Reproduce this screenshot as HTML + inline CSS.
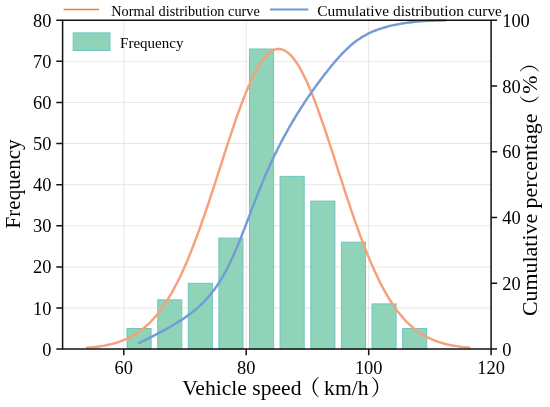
<!DOCTYPE html>
<html lang="en"><head><meta charset="utf-8"><title>Vehicle speed distribution</title>
<style>html,body{margin:0;padding:0;background:#fff}body{width:550px;height:407px;overflow:hidden}svg text{font-family:"Liberation Serif","Noto Serif CJK SC",serif}</style></head>
<body>
<svg width="550" height="407" viewBox="0 0 550 407" style="display:block">
<rect width="550" height="407" fill="#fff"/>
<path d="M123.8 20.2V349.1M246.2 20.2V349.1M368.7 20.2V349.1M62.6 308.0H491.1M62.6 266.9H491.1M62.6 225.8H491.1M62.6 184.7H491.1M62.6 143.5H491.1M62.6 102.4H491.1M62.6 61.3H491.1" stroke="#dfdfdf" stroke-width="0.8" fill="none"/>
<rect x="127.0" y="328.5" width="24.1" height="20.6" fill="#8fd4b9" stroke="#6fc6c1" stroke-width="1"/>
<rect x="157.7" y="299.8" width="24.1" height="49.3" fill="#8fd4b9" stroke="#6fc6c1" stroke-width="1"/>
<rect x="188.3" y="283.3" width="24.1" height="65.8" fill="#8fd4b9" stroke="#6fc6c1" stroke-width="1"/>
<rect x="218.9" y="238.1" width="24.1" height="111.0" fill="#8fd4b9" stroke="#6fc6c1" stroke-width="1"/>
<rect x="249.5" y="49.0" width="24.1" height="300.1" fill="#8fd4b9" stroke="#6fc6c1" stroke-width="1"/>
<rect x="280.1" y="176.4" width="24.1" height="172.7" fill="#8fd4b9" stroke="#6fc6c1" stroke-width="1"/>
<rect x="310.8" y="201.1" width="24.1" height="148.0" fill="#8fd4b9" stroke="#6fc6c1" stroke-width="1"/>
<rect x="341.4" y="242.2" width="24.1" height="106.9" fill="#8fd4b9" stroke="#6fc6c1" stroke-width="1"/>
<rect x="372.0" y="303.9" width="24.1" height="45.2" fill="#8fd4b9" stroke="#6fc6c1" stroke-width="1"/>
<rect x="402.6" y="328.5" width="24.1" height="20.6" fill="#8fd4b9" stroke="#6fc6c1" stroke-width="1"/>
<path d="M87.1 347.7 L89.0 347.5 L90.9 347.4 L92.8 347.2 L94.8 347.0 L96.7 346.7 L98.6 346.5 L100.5 346.2 L102.4 345.9 L104.4 345.6 L106.3 345.2 L108.2 344.8 L110.1 344.4 L112.1 343.9 L114.0 343.4 L115.9 342.9 L117.8 342.3 L119.8 341.6 L121.7 340.9 L123.6 340.2 L125.5 339.4 L127.4 338.5 L129.4 337.6 L131.3 336.6 L133.2 335.5 L135.1 334.4 L137.1 333.1 L139.0 331.8 L140.9 330.4 L142.8 328.9 L144.8 327.3 L146.7 325.6 L148.6 323.9 L150.5 322.0 L152.4 319.9 L154.4 317.8 L156.3 315.6 L158.2 313.2 L160.1 310.7 L162.1 308.1 L164.0 305.3 L165.9 302.4 L167.8 299.4 L169.7 296.2 L171.7 292.9 L173.6 289.4 L175.5 285.8 L177.4 282.1 L179.4 278.2 L181.3 274.2 L183.2 270.0 L185.1 265.7 L187.1 261.2 L189.0 256.6 L190.9 251.9 L192.8 247.0 L194.7 242.0 L196.7 236.9 L198.6 231.7 L200.5 226.3 L202.4 220.9 L204.4 215.3 L206.3 209.7 L208.2 204.0 L210.1 198.2 L212.0 192.4 L214.0 186.5 L215.9 180.5 L217.8 174.6 L219.7 168.6 L221.7 162.6 L223.6 156.6 L225.5 150.7 L227.4 144.7 L229.4 138.9 L231.3 133.1 L233.2 127.4 L235.1 121.7 L237.0 116.2 L239.0 110.8 L240.9 105.6 L242.8 100.5 L244.7 95.6 L246.7 90.8 L248.6 86.3 L250.5 81.9 L252.4 77.8 L254.3 73.9 L256.3 70.2 L258.2 66.9 L260.1 63.7 L262.0 60.9 L264.0 58.4 L265.9 56.1 L267.8 54.1 L269.7 52.5 L271.7 51.1 L273.6 50.1 L275.5 49.4 L277.4 49.0 L279.3 49.0 L281.3 49.3 L283.2 49.9 L285.1 50.8 L287.0 52.0 L289.0 53.6 L290.9 55.4 L292.8 57.6 L294.7 60.1 L296.6 62.8 L298.6 65.8 L300.5 69.1 L302.4 72.7 L304.3 76.5 L306.3 80.6 L308.2 84.8 L310.1 89.3 L312.0 94.0 L314.0 98.9 L315.9 103.9 L317.8 109.1 L319.7 114.5 L321.6 120.0 L323.6 125.6 L325.5 131.3 L327.4 137.0 L329.3 142.9 L331.3 148.8 L333.2 154.7 L335.1 160.7 L337.0 166.7 L338.9 172.7 L340.9 178.6 L342.8 184.6 L344.7 190.5 L346.6 196.4 L348.6 202.2 L350.5 207.9 L352.4 213.6 L354.3 219.1 L356.3 224.6 L358.2 230.0 L360.1 235.3 L362.0 240.4 L363.9 245.5 L365.9 250.4 L367.8 255.1 L369.7 259.8 L371.6 264.3 L373.6 268.6 L375.5 272.9 L377.4 276.9 L379.3 280.9 L381.2 284.7 L383.2 288.3 L385.1 291.8 L387.0 295.2 L388.9 298.4 L390.9 301.5 L392.8 304.4 L394.7 307.2 L396.6 309.9 L398.6 312.4 L400.5 314.8 L402.4 317.1 L404.3 319.3 L406.2 321.3 L408.2 323.3 L410.1 325.1 L412.0 326.8 L413.9 328.4 L415.9 330.0 L417.8 331.4 L419.7 332.7 L421.6 334.0 L423.5 335.2 L425.5 336.3 L427.4 337.3 L429.3 338.2 L431.2 339.1 L433.2 340.0 L435.1 340.7 L437.0 341.4 L438.9 342.1 L440.9 342.7 L442.8 343.3 L444.7 343.8 L446.6 344.3 L448.5 344.7 L450.5 345.1 L452.4 345.5 L454.3 345.8 L456.2 346.1 L458.2 346.4 L460.1 346.7 L462.0 346.9 L463.9 347.1 L465.8 347.3 L467.8 347.5 L469.7 347.7" stroke="#f4a27c" stroke-width="2.45" fill="none" stroke-linejoin="round" stroke-linecap="round"/>
<path d="M139.1 343.0 L143.6 340.8 L147.9 338.6 L152.0 336.6 L155.8 334.6 L159.5 332.6 L163.0 330.8 L166.3 329.0 L169.5 327.2 L172.5 325.5 L175.3 323.8 L178.0 322.1 L180.6 320.5 L183.1 318.9 L185.5 317.2 L187.7 315.6 L189.9 314.0 L192.0 312.4 L194.1 310.7 L196.1 309.1 L198.0 307.4 L199.9 305.7 L201.8 303.9 L203.6 302.1 L205.4 300.2 L207.2 298.3 L208.9 296.3 L210.6 294.3 L212.3 292.1 L214.0 290.0 L215.6 287.7 L217.2 285.4 L218.8 283.0 L220.4 280.4 L222.0 277.8 L223.6 275.2 L225.1 272.4 L226.7 269.4 L228.2 266.4 L229.8 263.3 L231.3 260.1 L232.9 256.7 L234.4 253.2 L235.9 249.6 L237.5 246.0 L239.0 242.2 L240.6 238.4 L242.1 234.5 L243.6 230.6 L245.2 226.6 L246.7 222.6 L248.3 218.6 L249.8 214.6 L251.3 210.6 L252.9 206.5 L254.4 202.5 L256.0 198.6 L257.5 194.6 L259.0 190.7 L260.6 186.9 L262.1 183.1 L263.7 179.4 L265.2 175.8 L266.7 172.3 L268.3 168.8 L269.8 165.4 L271.4 162.0 L272.9 158.8 L274.4 155.5 L276.0 152.4 L277.5 149.3 L279.1 146.2 L280.6 143.2 L282.1 140.3 L283.7 137.4 L285.2 134.6 L286.8 131.8 L288.3 129.0 L289.8 126.3 L291.4 123.7 L292.9 121.0 L294.5 118.5 L296.0 115.9 L297.5 113.4 L299.1 111.0 L300.6 108.5 L302.2 106.1 L303.7 103.8 L305.2 101.4 L306.8 99.1 L308.3 96.9 L309.9 94.6 L311.4 92.4 L312.9 90.2 L314.5 88.1 L316.0 85.9 L317.6 83.8 L319.1 81.8 L320.6 79.7 L322.2 77.7 L323.7 75.6 L325.3 73.6 L326.8 71.7 L328.3 69.7 L329.9 67.8 L331.4 65.9 L333.0 64.1 L334.5 62.2 L336.0 60.4 L337.6 58.7 L339.1 57.0 L340.7 55.3 L342.2 53.6 L343.7 52.1 L345.3 50.5 L346.8 49.0 L348.4 47.6 L349.9 46.2 L351.4 44.8 L353.0 43.5 L354.5 42.3 L356.1 41.1 L357.6 40.0 L359.2 38.9 L360.7 37.9 L362.3 36.9 L363.9 36.0 L365.5 35.1 L367.1 34.2 L368.7 33.4 L370.3 32.6 L372.0 31.9 L373.7 31.2 L375.4 30.5 L377.1 29.9 L378.9 29.2 L380.7 28.6 L382.5 28.1 L384.4 27.5 L386.3 27.0 L388.2 26.4 L390.2 25.9 L392.3 25.4 L394.4 25.0 L396.6 24.5 L398.8 24.1 L401.2 23.6 L403.7 23.2 L406.3 22.9 L409.0 22.5 L411.9 22.2 L414.8 21.9 L418.0 21.6 L421.3 21.3 L424.8 21.1 L428.5 20.9 L432.3 20.7 L436.4 20.6 L440.7 20.5 L445.2 20.4" stroke="#749bd6" stroke-width="2.45" fill="none" stroke-linejoin="round" stroke-linecap="round"/>
<path d="M62.6 20.2V349.1M61.85 349.1H491.85M491.1 349.1V20.2M491.85 20.2H61.85" stroke="#111" stroke-width="1.5" fill="none"/>
<path d="M56.300000000000004 349.1H62.6M56.300000000000004 308.0H62.6M56.300000000000004 266.9H62.6M56.300000000000004 225.8H62.6M56.300000000000004 184.7H62.6M56.300000000000004 143.5H62.6M56.300000000000004 102.4H62.6M56.300000000000004 61.3H62.6M56.300000000000004 20.2H62.6M491.1 349.1H497.1M491.1 283.3H497.1M491.1 217.5H497.1M491.1 151.8H497.1M491.1 86.0H497.1M491.1 20.2H497.1M123.8 349.1V355.3M246.2 349.1V355.3M368.7 349.1V355.3M491.1 349.1V355.3" stroke="#111" stroke-width="1.5" fill="none"/>
<g font-size="18.4" fill="#000">
<text x="51.5" y="355.6" text-anchor="end">0</text>
<text x="51.5" y="314.5" text-anchor="end">10</text>
<text x="51.5" y="273.4" text-anchor="end">20</text>
<text x="51.5" y="232.3" text-anchor="end">30</text>
<text x="51.5" y="191.2" text-anchor="end">40</text>
<text x="51.5" y="150.0" text-anchor="end">50</text>
<text x="51.5" y="108.9" text-anchor="end">60</text>
<text x="51.5" y="67.8" text-anchor="end">70</text>
<text x="51.5" y="26.7" text-anchor="end">80</text>
<text x="502.2" y="355.6">0</text>
<text x="502.2" y="289.8">20</text>
<text x="502.2" y="224.0">40</text>
<text x="502.2" y="158.3">60</text>
<text x="502.2" y="92.5">80</text>
<text x="502.2" y="26.7">100</text>
<text x="123.8" y="374.4" text-anchor="middle">60</text>
<text x="246.2" y="374.4" text-anchor="middle">80</text>
<text x="368.7" y="374.4" text-anchor="middle">100</text>
<text x="491.1" y="374.4" text-anchor="middle">120</text>
</g>
<g fill="#000">
<text x="182.15" y="395" font-size="21.6">Vehicle speed<tspan dx="-3.1">（</tspan><tspan dx="4.1">km/h</tspan><tspan dx="2.2">）</tspan></text>
<text transform="translate(19.7 183.9) rotate(-90)" text-anchor="middle" font-size="21.1">Frequency</text>
<text transform="translate(537.4 316) rotate(-90)" font-size="21.9">Cumulative percentage<tspan dx="-1.6" font-size="20">（</tspan><tspan dx="1.5">%</tspan><tspan dx="2.8" font-size="20">）</tspan></text>
</g>
<path d="M63.6 9.4H99" stroke="#f97d14" stroke-width="1.5"/>
<text x="111.3" y="15.5" font-size="14.3" fill="#000">Normal distribution curve</text>
<path d="M270 9.4H308.4" stroke="#6c99d6" stroke-width="2"/>
<text x="317.3" y="15.9" font-size="15.4" fill="#000">Cumulative distribution curve</text>
<rect x="73.2" y="32.9" width="36.8" height="17.6" fill="#8fd4b9" stroke="#6fc6c1" stroke-width="1"/>
<text x="120.1" y="48.2" font-size="15" fill="#000">Frequency</text>
</svg>
</body></html>
